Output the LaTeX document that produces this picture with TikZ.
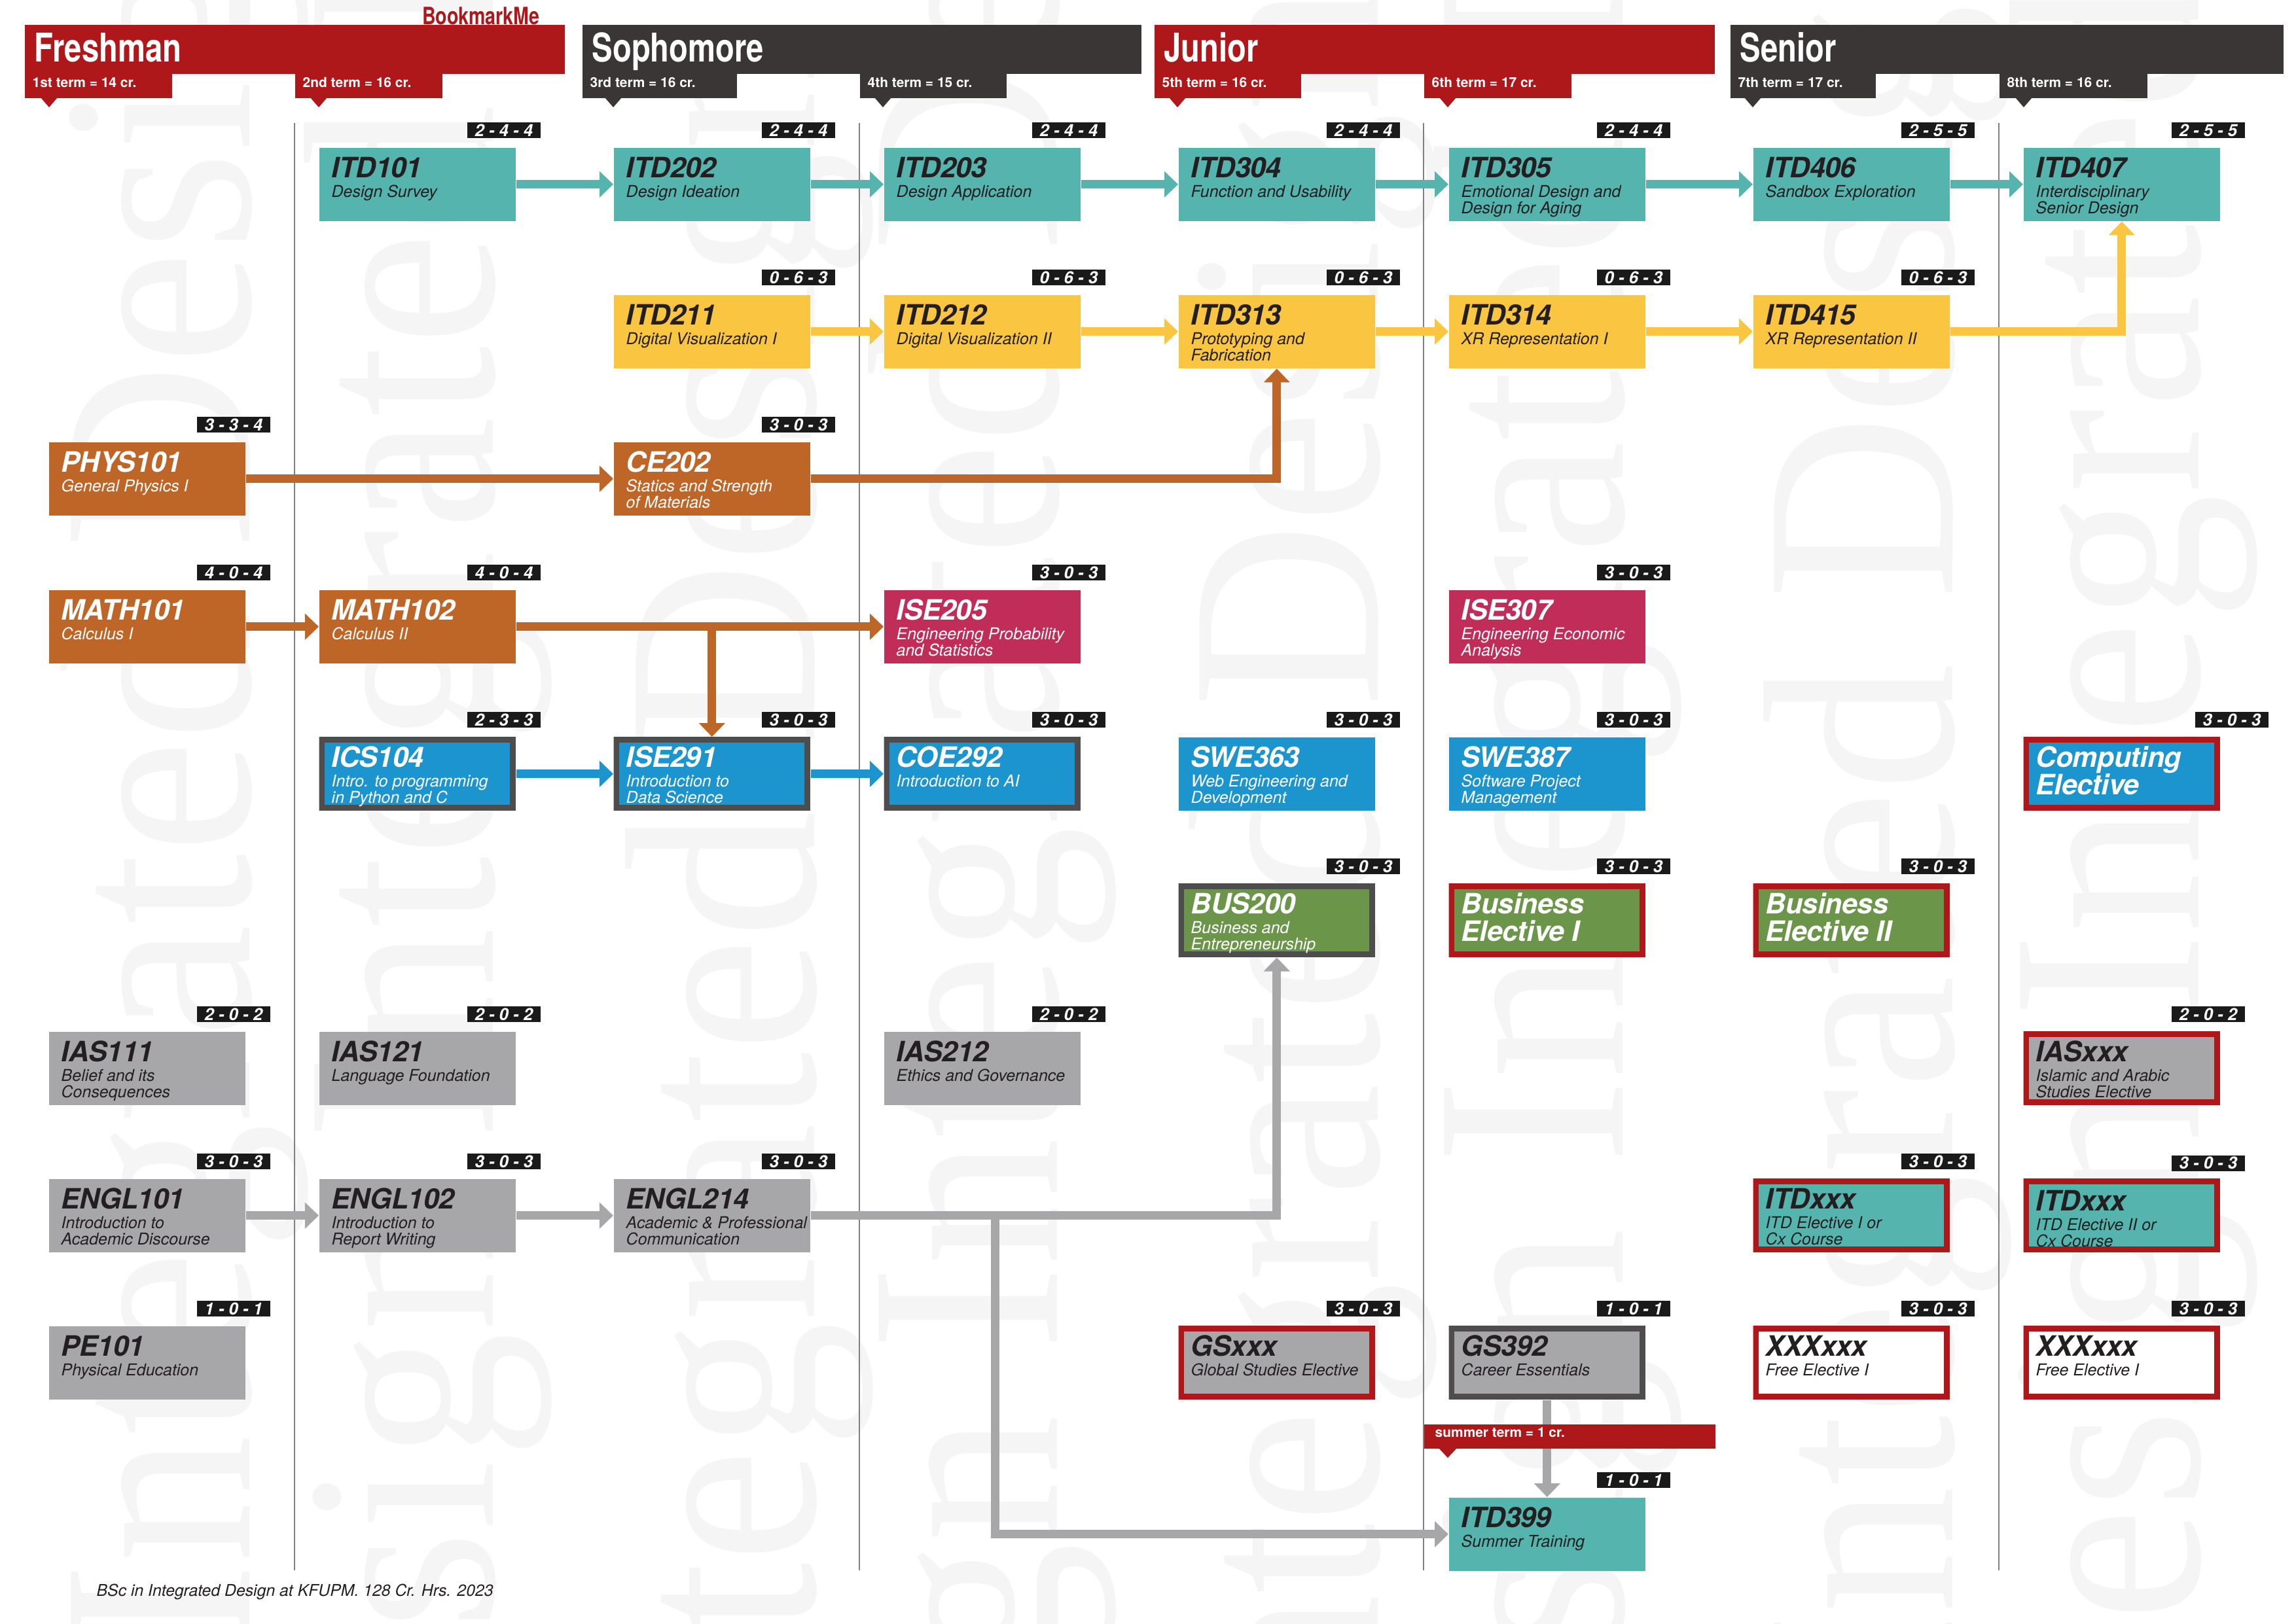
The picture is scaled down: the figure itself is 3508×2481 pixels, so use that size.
\documentclass[tikz,border=0pt]{standalone}
\usepackage{graphicx}
\usepackage{fontspec}
\setmainfont{TeX Gyre Heros}
\newfontfamily\headfont[FakeStretch=.78]{TeX Gyre Heros}
\newfontfamily\wmfont{Liberation Serif}
\usetikzlibrary{arrows.meta}
\definecolor{TealBox}{HTML}{55B5AE}
\definecolor{YellowBox}{HTML}{FAC641}
\definecolor{OrangeBox}{HTML}{BE6528}
\definecolor{PinkBox}{HTML}{BF2D58}
\definecolor{BlueBox}{HTML}{1C94CE}
\definecolor{GreenBox}{HTML}{6B964A}
\definecolor{GreyBox}{HTML}{A7A7A9}
\definecolor{BrandRed}{HTML}{AE181B}
\definecolor{BrandDark}{HTML}{3A3635}
\definecolor{RingDark}{HTML}{4E4C4D}
\definecolor{InkDark}{HTML}{231F20}
\definecolor{BadgeBlack}{HTML}{1B1A1A}
\definecolor{WaterGrey}{HTML}{F5F5F5}

\begin{document}
\begin{tikzpicture}[x=.01cm,y=-.01cm,
  coursebox/.style={rectangle,anchor=north west,inner sep=0pt,text width=3cm,text height=.46cm,text depth=.66cm},
  darktext/.style={coursebox,fill=#1,text=InkDark},
  whitetext/.style={coursebox,fill=#1,text=white},
  ring/.style={path picture={\draw[#1,line width=.17cm] (path picture bounding box.south west) rectangle (path picture bounding box.north east);}},
  credit/.style={rectangle,anchor=south east,inner sep=0pt,fill=BadgeBlack,text=white,minimum width=1.12cm,minimum height=.24cm,font=\bfseries\itshape\fontsize{7.3}{7.3}\selectfont},
  yearbar/.style={rectangle,anchor=north west,inner sep=0pt,text=white,text height=.57cm,text depth=.18cm,font=\headfont\bfseries\fontsize{17.2}{17.2}\selectfont},
  termtab/.style={rectangle,anchor=north west,inner sep=0pt,text=white,text height=.21cm,text depth=.165cm,font=\bfseries\fontsize{5.95}{5.95}\selectfont},
  flow/.style={line width=.13cm,-{Triangle[length=.21cm,width=.39cm]}},
  watermark/.style={anchor=base west,rotate=90,inner sep=0pt,text=WaterGrey,font=\wmfont\fontsize{111}{111}\selectfont}]

\def\Lefted#1{\raggedright\spaceskip=0pt\xspaceskip=0pt\leftskip=#1\relax\rightskip=-.5cm plus 1fil\relax}
\def\Code{\bfseries\itshape\fontsize{12.2}{11.95}\selectfont\addfontfeatures{LetterSpace=-1.2}}
\def\Desc{\normalfont\itshape\fontsize{7.1}{7.1}\selectfont}
\def\Course#1#2#3#4#5#6#7{%
  \node[#4] (#1) at (#2,#3) {\Lefted{.19cm}\Code #5\\[.05cm]\Desc #6\par};
  \node[credit] (#1c) at ([xshift=.38cm,yshift=.13cm]#1.north east) {#7};}
\def\Year#1#2#3#4#5{%
  \node[yearbar,fill=#4,text width=#3cm] (#1) at (#2,37) {\Lefted{.15cm}#5\par};}
\def\Term#1#2#3#4#5#6{%
  \node[termtab,fill=#5,text width=#3cm] (#1) at (#2,112) {\Lefted{.12cm}#6\par};
  \fill[#5] (#4-13,149) -- (#4+13,149) -- (#4,164) -- cycle;}
\def\Water#1#2#3{%
  \node[watermark] (#1) at (#2,#3+2881) {\scalebox{1}[1.067]{Integrated Design Integrated Design}};}

\useasboundingbox (0,0) rectangle (3508,2481);

% big letters behind everything
\begin{scope}
\clip (0,0) rectangle (3508,2481);
\Water{wma}{381}{2522}
\Water{wmb}{753}{1746}
\Water{wmc}{1244}{2825}
\Water{wmd}{1615}{2068}
\Water{wme}{2105}{2765}
\Water{wmf}{2479}{1783}
\Water{wmg}{2983}{2600}
\Water{wmh}{3359}{1560}
\end{scope}

% term rules
\draw[gray,line width=.015cm] (450,188) -- (450,2400);
\draw[gray,line width=.015cm] (1313,188) -- (1313,2400);
\draw[gray,line width=.015cm] (2175,188) -- (2175,2400);
\draw[gray,line width=.015cm] (3054,188) -- (3054,2400);

% first row
\Course{itd101}{487}{225}{darktext=TealBox}{ITD101}{Design Survey}{2 - 4 - 4}
\Course{itd202}{937}{225}{darktext=TealBox}{ITD202}{Design Ideation}{2 - 4 - 4}
\Course{itd203}{1350}{225}{darktext=TealBox}{ITD203}{Design Application}{2 - 4 - 4}
\Course{itd304}{1800}{225}{darktext=TealBox}{ITD304}{Function and Usability}{2 - 4 - 4}
\Course{itd305}{2213}{225}{darktext=TealBox}{ITD305}{Emotional Design and\\Design for Aging}{2 - 4 - 4}
\Course{itd406}{2678}{225}{darktext=TealBox}{ITD406}{Sandbox Exploration}{2 - 5 - 5}
\Course{itd407}{3091}{225}{darktext=TealBox}{ITD407}{Interdisciplinary\\Senior Design}{2 - 5 - 5}

\Course{itd211}{937}{450}{darktext=YellowBox}{ITD211}{Digital Visualization I}{0 - 6 - 3}
\Course{itd212}{1350}{450}{darktext=YellowBox}{ITD212}{Digital Visualization II}{0 - 6 - 3}
\Course{itd313}{1800}{450}{darktext=YellowBox}{ITD313}{Prototyping and\\Fabrication}{0 - 6 - 3}
\Course{itd314}{2213}{450}{darktext=YellowBox}{ITD314}{XR Representation I}{0 - 6 - 3}
\Course{itd415}{2678}{450}{darktext=YellowBox}{ITD415}{XR Representation II}{0 - 6 - 3}

\Course{phys101}{74}{675}{whitetext=OrangeBox}{PHYS101}{General Physics I}{3 - 3 - 4}
\Course{ce202}{937}{675}{whitetext=OrangeBox}{CE202}{Statics and Strength\\of Materials}{3 - 0 - 3}

\Course{math101}{74}{901}{whitetext=OrangeBox}{MATH101}{Calculus I}{4 - 0 - 4}
\Course{math102}{487}{901}{whitetext=OrangeBox}{MATH102}{Calculus II}{4 - 0 - 4}
\Course{ise205}{1350}{901}{whitetext=PinkBox}{ISE205}{Engineering Probability\\and Statistics}{3 - 0 - 3}
\Course{ise307}{2213}{901}{whitetext=PinkBox}{ISE307}{Engineering Economic\\Analysis}{3 - 0 - 3}

\Course{ics104}{487}{1126}{whitetext=BlueBox,ring=RingDark}{ICS104}{Intro. to programming\\in Python and C}{2 - 3 - 3}
\Course{ise291}{937}{1126}{whitetext=BlueBox,ring=RingDark}{ISE291}{Introduction to\\Data Science}{3 - 0 - 3}
\Course{coe292}{1350}{1126}{whitetext=BlueBox,ring=RingDark}{COE292}{Introduction to AI}{3 - 0 - 3}
\Course{swe363}{1800}{1126}{whitetext=BlueBox}{SWE363}{Web Engineering and\\Development}{3 - 0 - 3}
\Course{swe387}{2213}{1126}{whitetext=BlueBox}{SWE387}{Software Project\\Management}{3 - 0 - 3}
\node[whitetext=BlueBox,ring=BrandRed] (compel) at (3091,1126) {\Lefted{.19cm}\Code Computing\\Elective\par};
\node[credit] (compelc) at ([xshift=.74cm,yshift=.13cm]compel.north east) {3 - 0 - 3};

\Course{bus200}{1800}{1350}{whitetext=GreenBox,ring=RingDark}{BUS200}{Business and\\Entrepreneurship}{3 - 0 - 3}
\Course{busela}{2213}{1350}{whitetext=GreenBox,ring=BrandRed}{Business\\Elective I}{}{3 - 0 - 3}
\Course{buselb}{2678}{1350}{whitetext=GreenBox,ring=BrandRed}{Business\\Elective II}{}{3 - 0 - 3}

\Course{ias111}{74}{1576}{darktext=GreyBox}{IAS111}{Belief and its\\Consequences}{2 - 0 - 2}
\Course{ias121}{487}{1576}{darktext=GreyBox}{IAS121}{Language Foundation}{2 - 0 - 2}
\Course{ias212}{1350}{1576}{darktext=GreyBox}{IAS212}{Ethics and Governance}{2 - 0 - 2}
\Course{iasxxx}{3091}{1576}{darktext=GreyBox,ring=BrandRed}{IASxxx}{Islamic and Arabic\\Studies Elective}{2 - 0 - 2}

\Course{engl101}{74}{1801}{darktext=GreyBox}{ENGL101}{Introduction to\\Academic Discourse}{3 - 0 - 3}
\Course{engl102}{487}{1801}{darktext=GreyBox}{ENGL102}{Introduction to\\Report Writing}{3 - 0 - 3}
\Course{engl214}{937}{1801}{darktext=GreyBox}{ENGL214}{Academic \& Professional\\Communication}{3 - 0 - 3}
\Course{itdxa}{2678}{1801}{darktext=TealBox,ring=BrandRed}{ITDxxx}{ITD Elective I or\\Cx Course}{3 - 0 - 3}
\node[darktext=TealBox,ring=BrandRed,text height=.49cm,text depth=.63cm] (itdxb) at (3091,1801) {\Lefted{.19cm}\Code ITDxxx\\[.05cm]\Desc ITD Elective II or\\Cx Course\par};
\node[credit] (itdxbc) at ([xshift=.38cm,yshift=.105cm]itdxb.north east) {3 - 0 - 3};

\Course{pe101}{74}{2026}{darktext=GreyBox}{PE101}{Physical Education}{1 - 0 - 1}
\Course{gsxxx}{1800}{2026}{darktext=GreyBox,ring=BrandRed}{GSxxx}{Global Studies Elective}{3 - 0 - 3}
\Course{gs392}{2213}{2026}{darktext=GreyBox,ring=RingDark}{GS392}{Career Essentials}{1 - 0 - 1}
\Course{xxxa}{2678}{2026}{darktext=white,ring=BrandRed}{XXXxxx}{Free Elective I}{3 - 0 - 3}
\Course{xxxb}{3091}{2026}{darktext=white,ring=BrandRed}{XXXxxx}{Free Elective I}{3 - 0 - 3}

\Course{itd399}{2213}{2288}{darktext=TealBox}{ITD399}{Summer Training}{1 - 0 - 1}

% prerequisites
\draw[flow,TealBox] (itd101) -- (itd202);
\draw[flow,TealBox] (itd202) -- (itd203);
\draw[flow,TealBox] (itd203) -- (itd304);
\draw[flow,TealBox] (itd304) -- (itd305);
\draw[flow,TealBox] (itd305) -- (itd406);
\draw[flow,TealBox] (itd406) -- (itd407);

\draw[flow,YellowBox] (itd211) -- (itd212);
\draw[flow,YellowBox] (itd212) -- (itd313);
\draw[flow,YellowBox] (itd313) -- (itd314);
\draw[flow,YellowBox] (itd314) -- (itd415);
\draw[flow,YellowBox] (itd415) -| (itd407.south);

\draw[flow,OrangeBox] (phys101) -- (ce202);
\draw[flow,OrangeBox] (ce202) -| (itd313.south);
\draw[flow,OrangeBox] (math101) -- (math102);
\draw[flow,OrangeBox] (math102) -- (ise205);
\draw[flow,OrangeBox] (math102 -| ise291.north) -- (ise291.north);

\draw[flow,BlueBox] (ics104) -- (ise291);
\draw[flow,BlueBox] (ise291) -- (coe292);

\coordinate (gsplit) at (1520,1857);
\draw[flow,GreyBox] (engl101) -- (engl102);
\draw[flow,GreyBox] (engl102) -- (engl214);
\draw[flow,GreyBox] (engl214) -| (bus200.south);
\draw[flow,GreyBox] (gsplit) |- (itd399.west);
\draw[flow,GreyBox] (gs392) -- (itd399);

% years and terms
\Year{fresh}{37}{8.25}{BrandRed}{Freshman}
\Year{soph}{889}{8.54}{BrandDark}{Sophomore}
\Year{junior}{1763}{8.56}{BrandRed}{Junior}
\Year{senior}{2643}{8.45}{BrandDark}{Senior}

\Term{terma}{37}{2.25}{75}{BrandRed}{1st term = 14 cr.}
\Term{termb}{450}{2.25}{487}{BrandRed}{2nd term = 16 cr.}
\Term{termc}{889}{2.36}{937}{BrandDark}{3rd term = 16 cr.}
\Term{termd}{1313}{2.24}{1349}{BrandDark}{4th term = 15 cr.}
\Term{terme}{1763}{2.24}{1799}{BrandRed}{5th term = 16 cr.}
\Term{termf}{2175}{2.25}{2212}{BrandRed}{6th term = 17 cr.}
\Term{termg}{2643}{2.22}{2678}{BrandDark}{7th term = 17 cr.}
\Term{termh}{3054}{2.26}{3092}{BrandDark}{8th term = 16 cr.}

\node[rectangle,anchor=north west,inner sep=0pt,fill=BrandRed,text=white,text width=4.45cm,text height=.2cm,text depth=.17cm,font=\bfseries\fontsize{5.95}{5.95}\selectfont] (summer) at (2175,2176) {\Lefted{.17cm}summer term = 1 cr.\par};
\fill[BrandRed] (2198,2213) -- (2226,2213) -- (2212,2228) -- cycle;

\node[anchor=base east,inner sep=0pt,text=BrandRed,font=\headfont\bfseries\fontsize{10.4}{10.4}\selectfont] (bookmark) at (825,37) {BookmarkMe};
\node[anchor=base west,inner sep=0pt,text=InkDark,font=\itshape\fontsize{7.05}{7.05}\selectfont] (footer) at (147,2439) {BSc in Integrated Design at KFUPM. 128 Cr. Hrs. 2023};

\end{tikzpicture}
\end{document}
